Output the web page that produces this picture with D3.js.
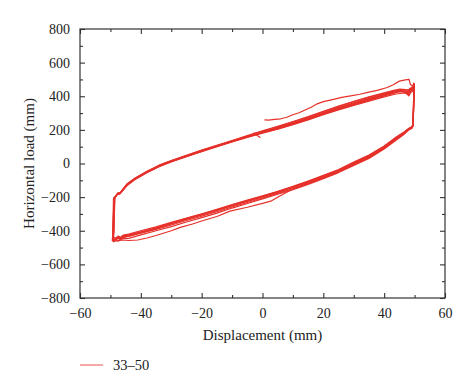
<!DOCTYPE html>
<html><head><meta charset="utf-8">
<script src="https://cdn.jsdelivr.net/npm/d3@7"></script>
<style>html,body{margin:0;padding:0;background:#fff;}svg{display:block;}</style>
</head><body><svg id="c" width="474" height="392"></svg>
<script>
// ---- data (displacement mm, horizontal load) ----
const xTicks = [-60, -40, -20, 0, 20, 40, 60];
const xMinor = [-50, -30, -10, 10, 30, 50];
const yTicks = [-800, -600, -400, -200, 0, 200, 400, 600, 800];
const yMinor = [-700, -500, -300, -100, 100, 300, 500, 700];
const seriesName = "33–50";

const cycle0 = [[0.8,259],[2,258],[4,262],[6,266],[8,275],[10,290],[12,302],[14,318],[16,335],[18,355],[20,368],[23,380],[26,393],[29,402],[32,412],[35,425],[38,436],[41,452],[43,468],[45,490],[47,497],[48.2,500],[48.4,485],[48.6,470],[49.2,462],[49.5,440],
 [48,440],[46,436],[43.5,432],[40,418],[35,393],[30,367],[25,338],[20,307],[15,275],[10,246],[5,218],[0,191],[-5,163],[-10,135],[-15,106],[-20,78],[-25,47],[-30,16],[-34,-12],[-38,-48],[-42,-90],[-44.5,-123],[-46.2,-160],[-46.8,-175],[-47.6,-176],[-48.2,-195],[-48.7,-205],[-48.9,-300],[-49,-400],[-49.2,-455],[-48,-462],[-46,-455],[-44,-458],[-41,-455],
 [-38,-443],[-35,-428],[-30,-400],[-27,-380],[-23,-360],[-20,-342],[-15,-315],[-10.7,-283],[-5,-260],[0,-237],[3,-222],[6,-190],[10,-152],[15,-118],[20,-86],[25,-50],[30,-8],[35,35],[40,92],[44,145],[46.5,178],[47.6,196],[48.4,206],[49.1,212],[49.5,228],[49.6,330],[49.8,450],[49.6,470]];
const cycle1 = [[49.7,478],[49.4,455],[48.6,445],[47,420],[46.5,432],[45,436],[43.5,428],[40,413],[35,388],[30,361],[25,333],[20,302],[15,270],[10,241],[5,213],[0,187],[-5,160],[-10,131],[-15,103],[-20,75],[-25,44],[-30,13],[-34,-16],[-38,-52],[-42,-93],[-44.5,-127],[-46.2,-165],[-46.9,-180],[-47.7,-182],[-48.3,-198],[-48.8,-210],[-49,-320],[-49.1,-420],[-49.3,-450],[-48.6,-458],[-47.5,-445],[-46.5,-452],[-45.5,-440],
 [-44,-433],[-40,-415],[-35,-392],[-30,-366],[-25,-339],[-20,-314],[-15,-287],[-10,-259],[-5,-232],[0,-205],[5,-178],[10,-150],[15,-118],[20,-85],[25,-49],[30,-6],[35,36],[40,92],[44,146],[46.5,177],[47.5,194],[48.3,207],[49,213],[49.4,228],[49.6,330],[49.8,470]];
const cycle2 = [[49.8,470],[49.2,448],[48.2,440],[47.4,418],[46.8,432],[44.5,432],[43.5,426],[40,410],[35,384],[30,357],[25,329],[20,299],[15,267],[10,239],[5,211],[0,186],[-5,159],[-10,133],[-15,104],[-20,76],[-25,45],[-30,15],[-34,-14],[-38,-51],[-42,-92],[-44.5,-126],[-46.2,-163],[-46.7,-177],[-47.5,-179],[-48.2,-194],[-48.6,-203],[-48.8,-300],[-48.9,-410],[-49.1,-448],[-48.3,-455],[-47.6,-440],[-46.8,-447],[-46,-437],
 [-44,-430],[-40,-411],[-35,-387],[-30,-360],[-25,-333],[-20,-308],[-15,-281],[-10,-253],[-5,-226],[0,-199],[5,-172],[10,-144],[15,-112],[20,-80],[25,-44],[30,-1],[35,41],[40,97],[44,150],[46.5,181],[47.5,197],[48.3,209],[49,214],[49.5,226],[49.7,340],[49.8,470]];
const cycle3 = [[49.8,470],[49.5,440],[48.8,432],[47.8,408],[47,425],[45.5,428],[43.5,424],[40,407],[35,381],[30,354],[25,326],[20,296],[15,265],[10,237],[5,210],[0,185],[-5,158],[-10,131],[-15,102],[-20,74],[-25,43],[-30,13],[-34,-16],[-38,-50],[-42,-91],[-44.5,-124],[-46.2,-162],[-46.8,-176],[-47.6,-178],[-48.3,-196],[-48.8,-205],[-49,-310],[-49.2,-415],[-49.3,-445],[-48.8,-460],[-48,-450],[-47.2,-437],[-46.2,-445],[-45.5,-433],
 [-44,-427],[-40,-408],[-35,-384],[-30,-357],[-25,-330],[-20,-305],[-15,-278],[-10,-250],[-5,-223],[0,-197],[5,-170],[10,-141],[15,-110],[20,-77],[25,-42],[30,2],[35,44],[40,99],[44,152],[46.5,182],[47.5,198],[48.3,210],[49.1,215],[49.5,230],[49.7,350],[49.8,470]];
const cycle4 = [[49.8,470],[49.3,445],[48.4,437],[47.6,412],[46.8,426],[45,430],[43.5,422],[40,404],[35,379],[30,352],[25,324],[20,294],[15,263],[10,235],[5,208],[0,184],[-5,158],[-10,130],[-15,101],[-20,73],[-25,42],[-30,12],[-34,-17],[-38,-52],[-42,-94],[-44.5,-128],[-46.2,-164],[-46.9,-178],[-47.7,-180],[-48.4,-196],[-48.9,-206],[-49,-300],[-49.1,-410],[-49.2,-443],[-48.5,-450],[-47.8,-436],[-47,-444],[-46,-430],
 [-44,-425],[-40,-406],[-35,-382],[-30,-355],[-25,-328],[-20,-302],[-15,-275],[-10,-247],[-5,-221],[0,-195],[5,-168],[10,-139],[15,-108],[20,-75],[25,-40],[30,4],[35,46],[40,101],[44,154],[46.5,184],[47.6,199],[48.4,211],[49.1,216],[49.5,232],[49.7,360],[49.8,465]];
const cycle6 = [[49.9,475],[49.6,430],[48.9,426],[48.1,402],[47.5,420],[45.8,418],[43.5,412],[40,396],[35,371],[30,346],[25,318],[20,290],[15,259],[10,231],[5,204],[0,181],[-5,155],[-10,128],[-15,100],[-20,71],[-25,40],[-30,10],[-34,-19],[-38,-55],[-42,-97],[-44.5,-131],[-46.3,-168],[-47,-182],[-47.8,-184],[-48.5,-199],[-49,-210],[-49.1,-320],[-49.2,-420],[-49.4,-458],[-48.9,-466],[-48.2,-452],[-47.4,-460],[-46.5,-447],
 [-44,-445],[-40,-425],[-35,-400],[-30,-375],[-25,-348],[-20,-322],[-15,-295],[-10,-265],[-5,-238],[0,-210],[5,-183],[10,-155],[15,-124],[20,-91],[25,-54],[30,-12],[35,30],[40,86],[44,140],[46.5,173],[47.6,191],[48.4,203],[49.1,208],[49.5,222],[49.7,330],[49.9,470]];
const cycle7 = [[49.9,470],[49.4,452],[48.5,447],[47.7,425],[47,440],[45.2,442],[43.5,436],[40,420],[35,396],[30,370],[25,342],[20,311],[15,279],[10,250],[5,221],[0,194],[-5,166],[-10,137],[-15,108],[-20,80],[-25,49],[-30,18],[-34,-10],[-38,-46],[-42,-88],[-44.5,-120],[-46.1,-158],[-46.6,-172],[-47.4,-174],[-48.1,-190],[-48.5,-200],[-48.7,-300],[-48.8,-400],[-49,-436],[-48.2,-446],[-47.4,-432],[-46.6,-440],[-45.8,-426],
 [-44,-420],[-40,-400],[-35,-377],[-30,-350],[-25,-324],[-20,-299],[-15,-272],[-10,-244],[-5,-218],[0,-192],[5,-165],[10,-136],[15,-104],[20,-71],[25,-36],[30,8],[35,50],[40,104],[44,157],[46.5,187],[47.6,202],[48.4,213],[49.1,218],[49.5,234],[49.7,360],[49.8,465]];
const cycle5 = [[49.8,465],[49.4,440],[48.6,434],[47.8,414],[47.2,428],[45.5,430],[43.5,420],[40,402],[35,376],[30,350],[25,322],[20,293],[15,262],[10,233],[5,206],[0,183],[-3,180],[-2,170],[-0.8,156]];
const cycles = [cycle0, cycle1, cycle2, cycle3, cycle4, cycle6, cycle7, cycle5];

// ---- drawing ----
const svg = d3.select("#c");
const L = 80, R = 445, T = 29, B = 298;
const x = d3.scaleLinear().domain([-60, 60]).range([L, R]);
const y = d3.scaleLinear().domain([-800, 800]).range([B, T]);
const red = "#e6302a";
const axCol = "#333";
const font = "'Liberation Serif','Times New Roman',serif";

const line = d3.line().x(d => x(d[0])).y(d => y(d[1]));
svg.append("g").selectAll("path").data(cycles).join("path")
  .attr("d", line).attr("fill", "none").attr("stroke", red)
  .attr("stroke-width", 1.2).attr("stroke-linejoin", "round").attr("stroke-linecap", "round");

function styleAxis(g) {
  g.select(".domain").remove();
  g.selectAll(".tick line").attr("stroke", axCol).attr("stroke-width", 1.1);
  g.selectAll("text").attr("fill", "#222").style("font-family", font).style("font-size", "14px");
}
// bottom
svg.append("g").attr("transform", `translate(0,${B})`)
  .call(d3.axisBottom(x).tickValues(xTicks).tickSize(-5).tickPadding(10).tickFormat(d3.format("d"))).call(styleAxis);
svg.append("g").attr("transform", `translate(0,${B})`)
  .call(d3.axisBottom(x).tickValues(xMinor).tickSize(-3).tickFormat("")).call(styleAxis);
// top
svg.append("g").attr("transform", `translate(0,${T})`)
  .call(d3.axisTop(x).tickValues(xTicks).tickSize(-5).tickFormat("")).call(styleAxis);
svg.append("g").attr("transform", `translate(0,${T})`)
  .call(d3.axisTop(x).tickValues(xMinor).tickSize(-3).tickFormat("")).call(styleAxis);
// left
svg.append("g").attr("transform", `translate(${L},0)`)
  .call(d3.axisLeft(y).tickValues(yTicks).tickSize(-5).tickPadding(10).tickFormat(d3.format("d"))).call(styleAxis);
svg.append("g").attr("transform", `translate(${L},0)`)
  .call(d3.axisLeft(y).tickValues(yMinor).tickSize(-3).tickFormat("")).call(styleAxis);
// right
svg.append("g").attr("transform", `translate(${R},0)`)
  .call(d3.axisRight(y).tickValues(yTicks).tickSize(-5).tickFormat("")).call(styleAxis);
svg.append("g").attr("transform", `translate(${R},0)`)
  .call(d3.axisRight(y).tickValues(yMinor).tickSize(-3).tickFormat("")).call(styleAxis);

svg.append("rect").attr("x", L).attr("y", T).attr("width", R - L).attr("height", B - T)
  .attr("fill", "none").attr("stroke", axCol).attr("stroke-width", 1.2);

// titles
svg.append("text").attr("x", (L + R) / 2).attr("y", 340).attr("text-anchor", "middle")
  .style("font-family", font).style("font-size", "15px").attr("fill", "#222").text("Displacement (mm)");
svg.append("text").attr("transform", `translate(34,${(T + B) / 2}) rotate(-90)`).attr("text-anchor", "middle")
  .style("font-family", font).style("font-size", "15px").attr("fill", "#222").text("Horizontal load (mm)");

// legend
svg.append("line").attr("x1", 80).attr("x2", 103).attr("y1", 365).attr("y2", 365)
  .attr("stroke", red).attr("stroke-width", 1.1).attr("opacity", 0.75);
svg.append("text").attr("x", 113).attr("y", 370).style("font-family", font).style("font-size", "14.5px")
  .attr("fill", "#222").text(seriesName);
</script></body></html>
